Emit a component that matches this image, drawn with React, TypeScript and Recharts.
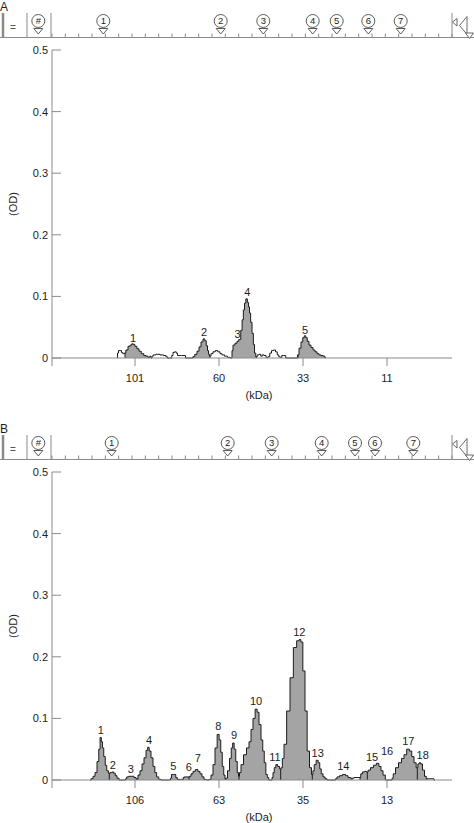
import React from "react";
import {
  Area,
  ComposedChart,
  Line,
  ReferenceDot,
  ReferenceLine,
  XAxis,
  YAxis,
} from "recharts";

// Two densitometric lane scans (A, B): OD along the lane, bands shaded grey,
// with the marker ruler of the scanning software drawn above each lane.

const FONT = '"Liberation Sans", Arial, Helvetica, sans-serif';
const AXIS = "#8a8a8a";
const INK = "#1c1c1c";
const BAND_FILL = "#a4a4a4";

// lane position (0..400 along the scanned lane) -> OD
const traceA: [number, number][] = [
  [65, 0], [66, 0.008], [67, 0.012], [69, 0.012], [70, 0.009], [71.5, 0.007],
  [73, 0.008], [74.7, 0.013], [77.3, 0.019], [79, 0.021], [80.5, 0.023], [82, 0.022],
  [83.7, 0.019], [86, 0.015], [88, 0.011], [90.5, 0.007], [93, 0.004], [95, 0.003],
  [97, 0.001], [98.5, 0.003], [99.5, 0], [100.5, 0.003], [102, 0.005], [106, 0.006],
  [110, 0.005], [113, 0.004], [115, 0.002], [116, 0], [119, 0], [120.5, 0.004],
  [121.5, 0.009], [123.5, 0.01], [125, 0.008], [126, 0.004], [133, 0.004], [134, 0],
  [140, 0], [141.5, 0.002], [144, 0.006], [146, 0.011], [148, 0.018], [150, 0.026],
  [152, 0.031], [153.5, 0.028], [155, 0.02], [156, 0.012], [157, 0.006], [158, 0.003],
  [160, 0.007], [162, 0.01], [164.5, 0.012], [167, 0.01], [169, 0.007], [171, 0.005],
  [174, 0.003], [177, 0.001], [179.5, 0], [180.5, 0.012], [181.5, 0.021], [184.5, 0.024],
  [185.5, 0.027], [188, 0.03], [189.5, 0.045], [190.7, 0.062], [192, 0.078], [193, 0.089],
  [194.7, 0.096], [196, 0.09], [197, 0.083], [198, 0.073], [199.3, 0.058], [200.7, 0.04],
  [202, 0.022], [203, 0.008], [204.5, 0.002], [206, 0.005], [208, 0.006], [209.5, 0.003],
  [211, 0.005], [213, 0.004], [215, 0.001], [217, 0.002], [218.5, 0.008], [220.5, 0.012],
  [222.5, 0.013], [224.5, 0.01], [226, 0.005], [227.5, 0.002], [229, 0.001], [230.5, 0.004],
  [233, 0.004], [234.5, 0], [245, 0], [246, 0.005], [248, 0.016], [250, 0.026],
  [251.5, 0.033], [253, 0.036], [254.5, 0.033], [256, 0.027], [258, 0.021], [260, 0.017],
  [262, 0.013], [264, 0.01], [266, 0.007], [268, 0.005], [270, 0.004], [272, 0.003],
  [273.5, 0.001], [274, 0],
];
const bandsA: [number, number][] = [[73, 97], [141.5, 158], [179.5, 204.5], [246, 273.5]];
const peakNamesA = ["1", "2", "3", "4", "5"];
const peakPosA = [81, 152, 185.5, 195.3, 253];
const peakOdA = [0.0216, 0.031, 0.028, 0.0955, 0.034];
const markerPosA = [-13.7, 51.3, 168.7, 211.3, 260.7, 284.7, 316.3, 348.7];
const kdaLabelsA = ["", "101", "60", "33", "11"];

const traceB: [number, number][] = [
  [38, 0], [40, 0.002], [42, 0.006], [44, 0.012], [46, 0.03], [47.5, 0.05],
  [48.7, 0.069], [50, 0.062], [51, 0.052], [52.5, 0.038], [54, 0.024], [55.5, 0.015],
  [57.3, 0.011], [59, 0.012], [60.7, 0.013], [62.5, 0.011], [64, 0.007], [66, 0.003],
  [68, 0], [73, 0], [74, 0.002], [75.5, 0.005], [78, 0.006], [81, 0.006],
  [83, 0.004], [85, 0.002], [87, 0.008], [89, 0.015], [91, 0.026], [93, 0.036],
  [95, 0.048], [96.3, 0.053], [98, 0.047], [100, 0.036], [102, 0.022], [103.7, 0.012],
  [105.5, 0.005], [108, 0.001], [110, 0], [118, 0], [119, 0.003], [120, 0.009],
  [123, 0.009], [124.5, 0.004], [126, 0.001], [131, 0.001], [131.5, 0.004], [133, 0.005],
  [137, 0.005], [138, 0.006], [140, 0.01], [142, 0.014], [144.7, 0.017], [147, 0.014],
  [149, 0.01], [151, 0.005], [153, 0.001], [156, 0], [158, 0.001], [160, 0.008],
  [162, 0.025], [164, 0.052], [166.3, 0.074], [168, 0.065], [169.5, 0.045], [171, 0.022],
  [172.5, 0.008], [173.5, 0.002], [174.5, 0.003], [176.5, 0.015], [178.5, 0.035], [180, 0.052],
  [181.3, 0.06], [183, 0.05], [184.5, 0.03], [186, 0.012], [187, 0.006], [188, 0.012],
  [190, 0.025], [193, 0.041], [196, 0.052], [198, 0.062], [200, 0.082], [202, 0.1],
  [204.3, 0.115], [206, 0.11], [208, 0.09], [210, 0.065], [211.5, 0.047], [213, 0.028],
  [214.7, 0.009], [216, 0.004], [217.5, 0], [219.5, 0], [220.5, 0.004], [221.5, 0.012],
  [223, 0.02], [224.7, 0.025], [226.5, 0.022], [228.7, 0.018], [229.7, 0.02], [231, 0.035],
  [233, 0.058], [236.3, 0.112], [239.7, 0.166], [243, 0.215], [246.3, 0.226], [248, 0.228],
  [249.7, 0.224], [252, 0.177], [254, 0.112], [256.3, 0.047], [258.7, 0.02], [260.3, 0.009],
  [261.5, 0.015], [263, 0.025], [265.3, 0.032], [267, 0.028], [268.5, 0.018], [270, 0.01],
  [272, 0.005], [274, 0.002], [276, 0], [283, 0], [284, 0.002], [286, 0.005],
  [289, 0.007], [292, 0.009], [295, 0.007], [297, 0.004], [300, 0.003], [304, 0.004],
  [308, 0.004], [309.5, 0.01], [311.5, 0.013], [313.5, 0.014], [315.3, 0.013], [317, 0.016],
  [320, 0.02], [323, 0.024], [325.7, 0.027], [328, 0.022], [330, 0.015], [332, 0.008],
  [334.7, 0], [339.7, 0], [340.5, 0.003], [342, 0.01], [345, 0.02], [348, 0.028],
  [351, 0.035], [353, 0.041], [356.3, 0.05], [358.5, 0.047], [361, 0.038], [363, 0.028],
  [365.3, 0.02], [366.5, 0.026], [368, 0.028], [369.5, 0.026], [371.5, 0.016], [373.5, 0.006],
  [375, 0.002], [381, 0.002], [383, 0],
];
const bandsB: [number, number][] = [
  [38, 57.3], [57.3, 68], [73, 85], [85, 108], [118, 126], [131, 137], [137, 153],
  [156, 173.5], [173.5, 187], [187, 217.5], [219.5, 228.7], [228.7, 260.3], [260.3, 276],
  [283, 300], [308, 315.3], [315.3, 334.7], [339.7, 365.3], [365.3, 375],
];
const peakNamesB = [
  "1", "2", "3", "4", "5", "6", "7", "8", "9",
  "10", "11", "12", "13", "14", "15", "16", "17", "18",
];
const peakPosB = [
  48.7, 60.7, 78.7, 97, 121.3, 136.7, 145.7, 166.3, 182,
  204, 223, 247.3, 265.7, 291.3, 320, 335, 356.3, 370.7,
];
const peakOdB = [
  0.0704, 0.0135, 0.0065, 0.054, 0.0107, 0.009, 0.0244, 0.0764, 0.0623,
  0.1164, 0.0254, 0.2286, 0.0325, 0.0114, 0.0265, 0.0363, 0.0525, 0.0298,
];
const markerPosB = [-13.7, 59.7, 175.7, 219.7, 269.7, 303, 323, 361.3];
const kdaLabelsB = ["", "106", "63", "35", "13"];

// shared axes
const kdaTicks = [0, 83, 167, 251, 335];
const odTicks = [0, 0.1, 0.2, 0.3, 0.4, 0.5];
const odTickLabels = ["0", "0.1", "0.2", "0.3", "0.4", "0.5"];
const markerNames = ["#", "1", "2", "3", "4", "5", "6", "7"];
const rulerTicks = Array.from({ length: 31 }, (_, i) => (i * 400) / 30);
const rulerBars = [-49, -25, -1, 400];
const rulerBarWidths = [2.5, 1, 1, 1];

type Row = { u: number; od: number; band: number | null };

function buildRows(trace: [number, number][], bands: [number, number][]): Row[] {
  return trace.map(([u, od]) => ({
    u,
    od,
    band: bands.some(([s, e]) => u >= s && u <= e) ? od : null,
  }));
}

function bandEdges(trace: [number, number][], bands: [number, number][]) {
  const edges = Array.from(new Set(bands.flat()));
  return edges
    .map((u) => {
      const hit = trace.find((p) => p[0] === u);
      return { u, od: hit ? hit[1] : 0 };
    })
    .filter((e) => e.od > 0);
}

function OdTick(props: any) {
  const { x, y, payload } = props;
  const i = odTicks.indexOf(payload.value);
  const axisX = x + 4;
  return (
    <g>
      <line x1={axisX} x2={axisX + 9} y1={y} y2={y} stroke={AXIS} />
      <text x={x} y={y} dy="0.36em" textAnchor="end" fontSize={11} fill={INK} fontFamily={FONT}>
        {odTickLabels[i]}
      </text>
    </g>
  );
}

function CircleMarker({ cx, cy, name }: { cx: number; cy: number; name: string }) {
  const c = cy - 16.5;
  return (
    <g>
      <circle cx={cx} cy={c} r={6.5} fill="#fff" stroke="#333" strokeWidth={0.8} />
      <text x={cx} y={c} dy="0.36em" textAnchor="middle" fontSize={9.5} fill={INK} fontFamily={FONT}>
        {name}
      </text>
      <polygon
        points={`${cx - 4.5},${cy - 9} ${cx + 4.5},${cy - 9} ${cx},${cy - 3.5}`}
        fill="#fff"
        stroke="#333"
        strokeWidth={0.8}
      />
    </g>
  );
}

function RulerEnd({ cx, cy }: { cx: number; cy: number }) {
  return (
    <g fill="#fff" stroke="#444" strokeWidth={0.8}>
      <polygon points={`${cx + 0.5},${cy - 15.5} ${cx + 5},${cy - 19} ${cx + 5},${cy - 11.5}`} />
      <polygon points={`${cx + 7.5},${cy - 12} ${cx + 15},${cy - 21} ${cx + 15},${cy - 3}`} />
      <polygon points={`${cx + 13.5},${cy - 4.5} ${cx + 21.5},${cy - 4.5} ${cx + 17.5},${cy + 1}`} />
    </g>
  );
}

function PeakLabel(props: any) {
  const vb = props.viewBox;
  return (
    <text x={vb.x} y={vb.y - 3} textAnchor="middle" fontSize={11} fill={INK} fontFamily={FONT}>
      {props.value}
    </text>
  );
}

type PanelProps = {
  letter: string;
  top: number;
  trace: [number, number][];
  bands: [number, number][];
  peakNames: string[];
  peakPos: number[];
  peakOd: number[];
  markerPos: number[];
  kdaLabels: string[];
};

function LanePanel(p: PanelProps) {
  const rows = buildRows(p.trace, p.bands);
  const edges = bandEdges(p.trace, p.bands);
  // the ruler line sits at level 0 of its own little chart
  const rulerRows = rulerTicks.map((u) => ({ u, level: 0 }));

  return (
    <div style={{ position: "absolute", left: 0, top: p.top, width: 474, height: 402 }}>
      <div style={{ position: "absolute", left: 0, top: 0 }}>
        <ComposedChart
          width={474}
          height={44}
          data={rulerRows}
          margin={{ top: 13, right: 0, bottom: 6.5, left: 0 }}
        >
          <XAxis
            dataKey="u"
            type="number"
            domain={[-52, 422]}
            allowDataOverflow
            ticks={rulerTicks}
            interval={0}
            mirror
            height={1}
            tickSize={4}
            tickFormatter={() => ""}
            axisLine={{ stroke: AXIS }}
            tickLine={{ stroke: AXIS }}
          />
          <YAxis hide type="number" domain={[0, 1]} allowDataOverflow />
          <Line
            dataKey="level"
            stroke="none"
            dot={false}
            activeDot={false}
            isAnimationActive={false}
          />
          {rulerBars.map((u, i) => (
            <ReferenceLine key={`bar${i}`} x={u} stroke={AXIS} strokeWidth={rulerBarWidths[i]} />
          ))}
          <ReferenceDot
            x={-39}
            y={0}
            shape={(s: any) => (
              <text x={s.cx} y={s.cy - 10.5} dy="0.36em" textAnchor="middle" fontSize={10} fill="#555" fontFamily={FONT}>
                =
              </text>
            )}
          />
          {p.markerPos.map((u, i) => (
            <ReferenceDot
              key={`m${i}`}
              x={u}
              y={0}
              shape={(s: any) => <CircleMarker cx={s.cx} cy={s.cy} name={markerNames[i]} />}
            />
          ))}
          <ReferenceDot x={400} y={0} shape={(s: any) => <RulerEnd cx={s.cx} cy={s.cy} />} />
        </ComposedChart>
      </div>

      <div
        style={{
          position: "absolute",
          left: 0,
          top: 1,
          fontSize: 12,
          lineHeight: "12px",
          fontFamily: FONT,
          color: INK,
        }}
      >
        {p.letter}
      </div>

      <div style={{ position: "absolute", left: 0, top: 44 }}>
        <ComposedChart
          width={474}
          height={358}
          data={rows}
          margin={{ top: 6, right: 22, bottom: 0, left: 0 }}
        >
          <XAxis
            dataKey="u"
            type="number"
            domain={[0, 400]}
            ticks={kdaTicks}
            interval={0}
            height={44}
            tickSize={8}
            tickMargin={8}
            tickFormatter={(v: number) => p.kdaLabels[kdaTicks.indexOf(v)] ?? ""}
            axisLine={{ stroke: AXIS }}
            tickLine={{ stroke: AXIS }}
            tick={{ fill: INK, fontSize: 11, fontFamily: FONT }}
            label={{
              content: (lp: any) => {
                const vb = lp.viewBox;
                return (
                  <text
                    x={vb.x + vb.width / 2 + 7}
                    y={vb.y + 40.5}
                    textAnchor="middle"
                    fontSize={11}
                    fill={INK}
                    fontFamily={FONT}
                  >
                    (kDa)
                  </text>
                );
              },
            }}
          />
          <YAxis
            type="number"
            domain={[0, 0.5]}
            ticks={odTicks}
            interval={0}
            width={52}
            tickSize={0}
            tickMargin={4}
            tickLine={false}
            axisLine={{ stroke: AXIS }}
            tick={(tp: any) => <OdTick {...tp} />}
            label={{
              content: (lp: any) => {
                const vb = lp.viewBox;
                const cx = vb.x + 13;
                const cy = vb.y + vb.height / 2;
                return (
                  <text
                    x={cx}
                    y={cy}
                    dy="0.36em"
                    transform={`rotate(-90, ${cx}, ${cy})`}
                    textAnchor="middle"
                    fontSize={11}
                    fill={INK}
                    fontFamily={FONT}
                  >
                    (OD)
                  </text>
                );
              },
            }}
          />
          <Area
            dataKey="band"
            type="step"
            stroke="none"
            fill={BAND_FILL}
            fillOpacity={1}
            connectNulls={false}
            dot={false}
            activeDot={false}
            isAnimationActive={false}
          />
          {edges.map((e) => (
            <ReferenceLine
              key={`edge${e.u}`}
              segment={[
                { x: e.u, y: 0 },
                { x: e.u, y: e.od },
              ]}
              stroke={INK}
              strokeWidth={1}
            />
          ))}
          <Line
            dataKey="od"
            type="step"
            stroke={INK}
            strokeWidth={1}
            dot={false}
            activeDot={false}
            isAnimationActive={false}
          />
          {p.peakNames.map((name, i) => (
            <ReferenceDot
              key={`pk${i}`}
              x={p.peakPos[i]}
              y={p.peakOd[i]}
              r={0}
              fill="none"
              stroke="none"
              label={{ value: name, content: PeakLabel }}
            />
          ))}
        </ComposedChart>
      </div>
    </div>
  );
}

export default function App() {
  return (
    <div
      style={{
        position: "absolute",
        left: 0,
        top: 0,
        width: 474,
        height: 823,
        background: "#fff",
        overflow: "hidden",
        fontFamily: FONT,
      }}
    >
      <LanePanel
        letter="A"
        top={0}
        trace={traceA}
        bands={bandsA}
        peakNames={peakNamesA}
        peakPos={peakPosA}
        peakOd={peakOdA}
        markerPos={markerPosA}
        kdaLabels={kdaLabelsA}
      />
      <LanePanel
        letter="B"
        top={421.7}
        trace={traceB}
        bands={bandsB}
        peakNames={peakNamesB}
        peakPos={peakPosB}
        peakOd={peakOdB}
        markerPos={markerPosB}
        kdaLabels={kdaLabelsB}
      />
    </div>
  );
}
